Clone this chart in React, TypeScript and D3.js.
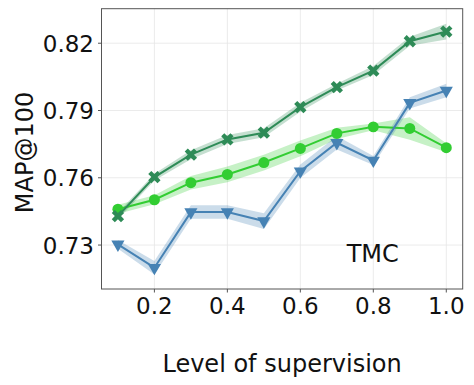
import { useEffect, useRef } from "react";
import * as d3 from "d3";

const levels = [0.1, 0.2, 0.3, 0.4, 0.5, 0.6, 0.7, 0.8, 0.9, 1.0];

const darkMean = [0.7429, 0.7603, 0.7703, 0.7771, 0.7801, 0.7915, 0.8004, 0.8078, 0.8209, 0.8252];
const darkErr = [0.0015, 0.0015, 0.002, 0.002, 0.002, 0.002, 0.0015, 0.002, 0.002, 0.0035];

const lightMean = [0.746, 0.7502, 0.7578, 0.7615, 0.7668, 0.7731, 0.7798, 0.7827, 0.782, 0.7734];
const lightErr = [0.002, 0.002, 0.003, 0.0035, 0.0035, 0.0035, 0.0025, 0.0015, 0.005, 0.002];

const blueMean = [0.7303, 0.7199, 0.7447, 0.7447, 0.7407, 0.7629, 0.7756, 0.7677, 0.7934, 0.7989];
const blueErr = [0.002, 0.003, 0.003, 0.003, 0.0035, 0.003, 0.003, 0.002, 0.0025, 0.003];

const xTicks = [0.2, 0.4, 0.6, 0.8, 1.0];
const yTicks = [0.73, 0.76, 0.79, 0.82];

const series = [
  { name: "light", mean: lightMean, err: lightErr, color: "#32cd32", marker: "circle" },
  { name: "blue", mean: blueMean, err: blueErr, color: "#4682b4", marker: "triangle" },
  { name: "dark", mean: darkMean, err: darkErr, color: "#2e8b57", marker: "x" },
];

export default function App() {
  const svgRef = useRef<SVGSVGElement>(null);

  useEffect(() => {
    if (!svgRef.current) return;
    const svg = d3.select(svgRef.current);
    svg.selectAll("*").remove();

    const left = 101.5;
    const right = 462.7;
    const top = 8.7;
    const bottom = 289;

    const x = d3.scaleLinear().domain([0.055, 1.045]).range([left, right]);
    const y = d3.scaleLinear().domain([0.7104, 0.8354]).range([bottom, top]);

    const font = "DejaVu Sans, sans-serif";

    // grid
    const grid = svg.append("g").attr("stroke", "#e6e6e6").attr("stroke-width", 0.8);
    xTicks.forEach((t) => {
      grid.append("line").attr("x1", x(t)).attr("x2", x(t)).attr("y1", top).attr("y2", bottom);
    });
    yTicks.forEach((t) => {
      grid.append("line").attr("x1", left).attr("x2", right).attr("y1", y(t)).attr("y2", y(t));
    });

    // bands
    series.forEach((s) => {
      const area = d3
        .area<number>()
        .x((_, i) => x(levels[i]))
        .y0((d, i) => y(d - s.err[i]))
        .y1((d, i) => y(d + s.err[i]));
      svg
        .append("path")
        .attr("d", area(s.mean))
        .attr("fill", s.color)
        .attr("fill-opacity", 0.28)
        .attr("stroke", "none");
    });

    // lines + markers
    series.forEach((s) => {
      const line = d3
        .line<number>()
        .x((_, i) => x(levels[i]))
        .y((d) => y(d));
      svg
        .append("path")
        .attr("d", line(s.mean))
        .attr("fill", "none")
        .attr("stroke", s.color)
        .attr("stroke-width", 2);

      let sym;
      let rot = 0;
      if (s.marker === "circle") sym = d3.symbol(d3.symbolCircle, 95);
      else if (s.marker === "triangle") {
        sym = d3.symbol(d3.symbolTriangle, 75);
        rot = 180;
      } else {
        sym = d3.symbol(d3.symbolCross, 95);
        rot = 45;
      }
      svg
        .append("g")
        .selectAll("path")
        .data(s.mean)
        .enter()
        .append("path")
        .attr("d", sym())
        .attr("transform", (d, i) => `translate(${x(levels[i])},${y(d)}) rotate(${rot})`)
        .attr("fill", s.color);
    });

    // frame
    svg
      .append("rect")
      .attr("x", left)
      .attr("y", top)
      .attr("width", right - left)
      .attr("height", bottom - top)
      .attr("fill", "none")
      .attr("stroke", "#555")
      .attr("stroke-width", 1);

    // ticks
    xTicks.forEach((t) => {
      svg.append("line").attr("x1", x(t)).attr("x2", x(t)).attr("y1", bottom).attr("y2", bottom + 3.5).attr("stroke", "#555");
      svg
        .append("text")
        .attr("x", x(t))
        .attr("y", 314.3)
        .attr("text-anchor", "middle")
        .style("font-family", font)
        .style("font-size", "23px")
        .attr("fill", "#111")
        .text(t.toFixed(1));
    });
    yTicks.forEach((t) => {
      svg.append("line").attr("x1", left - 3.5).attr("x2", left).attr("y1", y(t)).attr("y2", y(t)).attr("stroke", "#555");
      svg
        .append("text")
        .attr("x", 94)
        .attr("y", y(t) + 8.5)
        .attr("text-anchor", "end")
        .style("font-family", font)
        .style("font-size", "23px")
        .attr("fill", "#111")
        .text(t.toFixed(2));
    });

    // labels
    svg
      .append("text")
      .attr("x", (left + right) / 2)
      .attr("y", 372)
      .attr("text-anchor", "middle")
      .style("font-family", font)
      .style("font-size", "24px")
      .attr("fill", "#111")
      .text("Level of supervision");

    svg
      .append("text")
      .attr("transform", `translate(33,152.5) rotate(-90)`)
      .attr("text-anchor", "middle")
      .style("font-family", font)
      .style("font-size", "24px")
      .attr("fill", "#111")
      .text("MAP@100");

    svg
      .append("text")
      .attr("x", 346.7)
      .attr("y", 262)
      .style("font-family", font)
      .style("font-size", "24px")
      .attr("fill", "#111")
      .text("TMC");
  }, []);

  return (
    <svg
      ref={svgRef}
      width={474}
      height={385}
      style={{ position: "absolute", left: 0, top: 0, background: "#fff" }}
    ></svg>
  );
}
